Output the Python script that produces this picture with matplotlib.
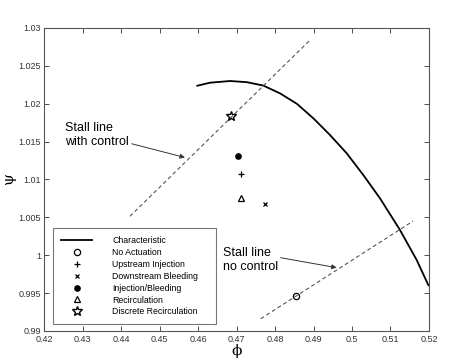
import matplotlib
matplotlib.use('Agg')
import matplotlib.pyplot as plt

plt.rcParams['font.family'] = ['Liberation Sans', 'DejaVu Sans']

# Characteristic curve
phi_char = [0.45982, 0.46312, 0.46831, 0.47265, 0.47696, 0.48130, 0.48571, 0.48995,
            0.49429, 0.49862, 0.50294, 0.50727, 0.51247, 0.51681, 0.51982, 0.52000]
psi_char = [1.02238, 1.02278, 1.02300, 1.02285, 1.02240, 1.02137, 1.01998, 1.01808,
            1.01587, 1.01346, 1.01059, 1.00752, 1.00333, 0.99937, 0.99607, 0.99600]

# stall lines
stall_ctrl_phi = [0.4423, 0.4891]
stall_ctrl_psi = [1.00514, 1.0284]
stall_noctrl_phi = [0.4763, 0.5159]
stall_noctrl_psi = [0.99162, 1.00452]

# operating points
no_act = (0.4854, 0.99458)
upstream = (0.4712, 1.01077)
downstream = (0.4774, 1.00677)
inj_bleed = (0.4704, 1.01306)
recirc = (0.4711, 1.00756)
disc_recirc = (0.4686, 1.01842)

fig = plt.figure(figsize=(4.74, 3.64), dpi=100)
ax = fig.add_axes([0.093, 0.0907, 0.812, 0.8324])

ax.plot(phi_char, psi_char, color='black', lw=1.3, label='Characteristic')
ax.plot(stall_ctrl_phi, stall_ctrl_psi, color='#555555', lw=0.8, dashes=(3.5, 2.5))
ax.plot(stall_noctrl_phi, stall_noctrl_psi, color='#555555', lw=0.8, dashes=(3.5, 2.5))

mk = dict(color='black', linestyle='none')
ax.plot(*no_act, marker='o', mfc='none', mew=0.9, ms=4.5, label='No Actuation', **mk)
ax.plot(*upstream, marker='+', mew=0.9, ms=5, label='Upstream Injection', **mk)
ax.plot(*downstream, marker='x', mew=0.9, ms=3.5, label='Downstream Bleeding', **mk)
ax.plot(*inj_bleed, marker='o', ms=3.8, label='Injection/Bleeding', **mk)
ax.plot(*recirc, marker='^', mfc='none', mew=0.9, ms=5, label='Recirculation', **mk)
ax.plot(*disc_recirc, marker='*', mfc='none', mew=1.0, ms=7, label='Discrete Recirculation', **mk)

ax.annotate('Stall line\nwith control', xy=(0.4566, 1.0129), xytext=(0.4255, 1.0159),
            fontsize=9, va='center', ha='left',
            arrowprops=dict(arrowstyle='-|>', color='#333333', lw=0.7,
                            mutation_scale=7, shrinkA=0, shrinkB=0))
ax.annotate('Stall line\nno control', xy=(0.4960, 0.99836), xytext=(0.4664, 0.9994),
            fontsize=9, va='center', ha='left',
            arrowprops=dict(arrowstyle='-|>', color='#333333', lw=0.7,
                            mutation_scale=7, shrinkA=0, shrinkB=0,
                            relpos=(1.0, 0.6)))

ax.set_xlim(0.42, 0.52)
ax.set_ylim(0.99, 1.03)
ax.set_xticks([0.42, 0.43, 0.44, 0.45, 0.46, 0.47, 0.48, 0.49, 0.5, 0.51, 0.52])
ax.set_xticklabels(['0.42', '0.43', '0.44', '0.45', '0.46', '0.47', '0.48', '0.49', '0.5', '0.51', '0.52'])
ax.set_yticks([0.99, 0.995, 1.0, 1.005, 1.01, 1.015, 1.02, 1.025, 1.03])
ax.set_yticklabels(['0.99', '0.995', '1', '1.005', '1.01', '1.015', '1.02', '1.025', '1.03'])
ax.tick_params(direction='in', top=True, right=True, length=3.5, width=0.6,
               labelsize=6.5, colors='#333333')
ax.tick_params(axis='x', pad=3)
ax.tick_params(axis='y', pad=2)
for s in ax.spines.values():
    s.set_color('#555555')
    s.set_linewidth(0.8)

ax.set_xlabel('\u03d5', fontsize=11, family=['DejaVu Serif'], labelpad=0)
ax.set_ylabel('\u03c8', fontsize=11, family=['DejaVu Serif'], labelpad=2, rotation=90)

leg = ax.legend(loc='lower left', bbox_to_anchor=(0.023, 0.022, 0.424, 0.32), mode='expand',
                fontsize=6.3, frameon=True, fancybox=False, handlelength=3.6,
                handletextpad=2.3, labelspacing=0.33, borderpad=0.9, borderaxespad=0)
leg.get_frame().set_edgecolor('#555555')
leg.get_frame().set_linewidth(0.8)

plt.savefig('out.png', dpi=100)
